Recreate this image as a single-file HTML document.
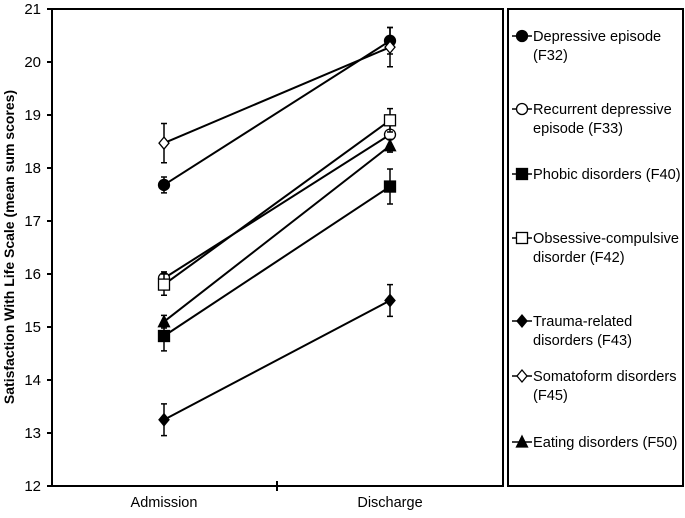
<!DOCTYPE html>
<html><head><meta charset="utf-8"><style>
body{margin:0;background:#fff;}
svg text{font-family:"Liberation Sans",Arial,sans-serif;fill:#000;}
</style></head><body>
<svg id="c" width="685" height="513">
<rect x="52" y="9" width="451" height="477" fill="none" stroke="#000" stroke-width="2"/>
<rect x="508" y="9" width="175" height="477" fill="none" stroke="#000" stroke-width="2"/>
<text x="0" y="0" transform="translate(14,247) rotate(-90)" text-anchor="middle" font-size="14" font-weight="bold">Satisfaction With Life Scale (mean sum scores)</text>
<g id="ax"></g><g id="series"></g><g id="legend"></g>
</svg>
<script>
const categories=["Admission","Discharge"];
const yTicks=[12,13,14,15,16,17,18,19,20,21];
const seriesNames=["Depressive episode|(F32)","Recurrent depressive|episode (F33)","Phobic disorders (F40)","Obsessive-compulsive|disorder (F42)","Trauma-related|disorders (F43)","Somatoform disorders|(F45)","Eating disorders (F50)"];
const markers=["circle-filled","circle-open","square-filled","square-open","diamond-filled","diamond-open","triangle-filled"];
const meanF32=[17.68,20.4],errF32=[0.15,0.25];
const meanF33=[15.92,18.63],errF33=[0.12,0.25];
const meanF40=[14.83,17.65],errF40=[0.28,0.33];
const meanF42=[15.8,18.9],errF42=[0.2,0.22];
const meanF43=[13.25,15.5],errF43=[0.3,0.3];
const meanF45=[18.47,20.28],errF45=[0.37,0.37];
const meanF50=[15.1,18.42],errF50=[0.12,0.12];
const means=[meanF32,meanF33,meanF40,meanF42,meanF43,meanF45,meanF50];
const errs=[errF32,errF33,errF40,errF42,errF43,errF45,errF50];
const legendY=[36,109,174,238,321,376,442];
const NS="http://www.w3.org/2000/svg";
const y=v=>486-(v-12)*53;
const x=i=>164+i*226;
function mk(tag,attrs,parent){const e=document.createElementNS(NS,tag);for(const k in attrs)e.setAttribute(k,attrs[k]);parent.appendChild(e);return e;}
const ax=document.getElementById('ax');
yTicks.forEach(t=>{
 const l=mk('line',{x1:47,x2:52,y1:y(t),y2:y(t),stroke:'#000','stroke-width':2},ax);
 
 
 const tx=mk('text',{x:41,y:y(t)+5,'text-anchor':'end','font-size':15},ax);tx.textContent=t;
 
 
});
const mt=mk('line',{x1:277,x2:277,y1:481,y2:491,stroke:'#000','stroke-width':2},ax);


categories.forEach((c,i)=>{const tx=mk('text',{x:x(i),y:507,'text-anchor':'middle','font-size':14.5},ax);tx.textContent=c;
 
 });
function marker(type,cx,cy,p){
 const fill=type.endsWith('filled')?'#000':'#fff';let e;
 if(type.startsWith('circle'))e=mk('circle',{cx,cy,r:5.5,fill,stroke:'#000','stroke-width':1.3},p);
 else if(type.startsWith('square'))e=mk('rect',{x:cx-5.5,y:cy-5.5,width:11,height:11,fill,stroke:'#000','stroke-width':1.3},p);
 else if(type.startsWith('diamond'))e=mk('polygon',{points:`${cx},${cy-6} ${cx+5},${cy} ${cx},${cy+6} ${cx-5},${cy}`,fill,stroke:'#000','stroke-width':1.3},p);
 else e=mk('polygon',{points:`${cx},${cy-6} ${cx+5.5},${cy+5} ${cx-5.5},${cy+5}`,fill,stroke:'#000','stroke-width':1.3},p);
 return e;}
const sg=document.getElementById('series');
means.forEach((m,s)=>{
 const g=mk('g',{},sg);
 
 
 const ln=mk('line',{x1:x(0),y1:y(m[0]),x2:x(1),y2:y(m[1]),stroke:'#000','stroke-width':2},g);
 
 
 m.forEach((v,i)=>{
  const e=errs[s][i];
  const eb=mk('path',{d:`M${x(i)},${y(v-e)}V${y(v+e)}M${x(i)-3},${y(v-e)}h6M${x(i)-3},${y(v+e)}h6`,stroke:'#000','stroke-width':1.5,fill:'none'},g);
  
  
  const p=marker(markers[s],x(i),y(v),g);
  
  
 });
});
const lg=document.getElementById('legend');
seriesNames.forEach((n,s)=>{
 const g=mk('g',{},lg);
 
 
 const yy=legendY[s];
 mk('line',{x1:512,x2:532,y1:yy,y2:yy,stroke:'#000','stroke-width':1.5},g);
 marker(markers[s],522,yy,g);
 n.split('|').forEach((t,k)=>{const tx=mk('text',{x:533,y:yy+5+k*19,'font-size':14.6},g);tx.textContent=t;});
});
</script>
</body></html>
